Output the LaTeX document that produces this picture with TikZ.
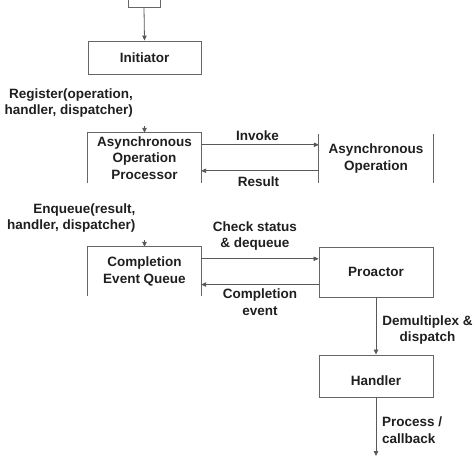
\documentclass[tikz,border=0pt]{standalone}
\usepackage{fontspec}
\setmainfont{Liberation Sans}
\usetikzlibrary{arrows.meta}
\begin{document}
\begin{tikzpicture}[x=1pt,y=-1pt,
  every node/.style={font=\fontsize{13.5}{16.5}\selectfont\bfseries, text=black!88, inner sep=0pt},
  box/.style={draw=black!60, line width=0.9pt, minimum width=113pt, align=center},
  openbox/.style={minimum width=113pt, align=center},
  edge/.style={draw=black!60, line width=0.9pt},
  arr/.style={draw=black!65, line width=0.8pt, -{Triangle[length=5pt,width=4.5pt]}},
  lbl/.style={align=center}]
\useasboundingbox (0,0) rectangle (474,457);
% top source box (cut by the border)
\node[draw=black!60, line width=0.9pt, minimum width=32pt, minimum height=12pt] (src) at (144,1) {};
% boxes
\node[box, minimum height=33pt] (init) at (144.5,57.5) {Initiator};
\node[openbox, minimum height=50pt] (aop) at (144.5,158) {Asynchronous\\Operation\\Processor};
\node[openbox, minimum width=114pt, minimum height=49pt] (ao) at (376,158.5) {Asynchronous\\Operation};
\node[openbox, minimum height=49pt] (ceq) at (144.5,271.5) {Completion\\Event Queue};
\node[box, minimum width=114pt, minimum height=50pt] (pro) at (376,272) {Proactor};
\node[box, minimum width=114pt, minimum height=42pt] (han) at (376,376) {};
\node at (376,381) (hant) {Handler};
% open box edges
\draw[edge] (aop.south west) -- (aop.north west) -- (aop.north east) -- (aop.south east);
\draw[edge] (ao.north west) -- (ao.south west);
\draw[edge] (ao.north east) -- (ao.south east);
\draw[edge] (ceq.south west) -- (ceq.north west) -- (ceq.north east) -- (ceq.south east);
% connectors
\draw[arr] (src.south) -- (init.north);
\coordinate (regtop) at (144.5,126);
\draw[arr] (regtop) -- (aop.north);
\coordinate (enqtop) at (144.5,240);
\draw[arr] (enqtop) -- (ceq.north);
\draw[arr] ([yshift=-12pt]aop.north east) coordinate (i1) -- (i1 -| ao.west);
\draw[arr] ([yshift=-37pt]ao.north west) coordinate (r1) -- (r1 -| aop.east);
\draw[arr] ([yshift=-12pt]ceq.north east) coordinate (c1) -- (c1 -| pro.west);
\draw[arr] ([yshift=-38pt]pro.north west) coordinate (e1) -- (e1 -| ceq.east);
\draw[arr] (pro.south) -- (han.north);
\coordinate (outend) at (376,456);
\draw[arr] (han.south) -- (outend);
% labels
\node[lbl, align=right, anchor=east] (reg) at (133,103) {Register(operation,\\handler, dispatcher)};
\node[lbl, align=right, anchor=east] (enq) at (135.5,218) {Enqueue(result,\\handler, dispatcher)};
\node[lbl] (inv) at (257.5,136) {Invoke};
\node[lbl] (res) at (258.5,182) {Result};
\node[lbl] (chk) at (255,236) {Check status\\\& dequeue};
\node[lbl] (cev) at (260,302) {Completion\\event};
\node[lbl] (dem) at (427.5,330) {Demultiplex \&\\dispatch};
\node[lbl, align=left, anchor=west] (pcb) at (382,430) {Process /\\callback};
\end{tikzpicture}
\end{document}
